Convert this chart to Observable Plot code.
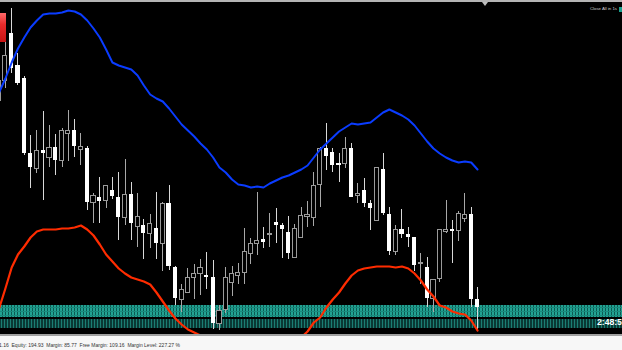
<!DOCTYPE html>
<html><head><meta charset="utf-8">
<script src="https://cdn.jsdelivr.net/npm/d3@7"></script>
<script src="https://cdn.jsdelivr.net/npm/@observablehq/plot@0.6"></script>
<style>
html,body{margin:0;padding:0;background:#000;overflow:hidden;width:622px;height:350px;}
#wrap{position:relative;width:622px;height:350px;overflow:hidden;}
#chart svg{display:block;}
#topbar{position:absolute;left:0;top:0;width:622px;height:2px;background:#b4b4b4;}
#redbtn{position:absolute;left:0;top:13px;width:6px;height:29px;background:linear-gradient(#ff6a6a,#e82a2a 40%,#c81414);}
#closeall{position:absolute;right:5px;top:6px;font:4.3px "Liberation Sans",sans-serif;color:#d0d0d0;white-space:nowrap;}
#closesq{position:absolute;left:619px;top:7px;width:4px;height:5px;background:#1aa08f;}
#shift{position:absolute;left:482px;top:2px;width:0;height:0;border-left:3px solid transparent;border-right:3px solid transparent;border-top:4px solid #bdbdbd;}
#clock{position:absolute;left:597px;top:317px;font:bold 8.6px "Liberation Sans",sans-serif;color:#fff;white-space:nowrap;}
#status{position:absolute;left:0;top:334px;width:622px;height:16px;background:#f7f7f7;border-top:2px solid #a0a0a0;box-sizing:border-box;}
#status span{position:absolute;left:-1px;top:6px;font:5px "Liberation Sans",sans-serif;color:#333;white-space:pre;}
</style></head>
<body><div id="wrap"><div id="chart"></div>
<div id="topbar"></div><div id="redbtn"></div>
<div id="closeall">Close All in 1s</div><div id="closesq"></div>
<div id="shift"></div>
<div id="clock">2:48:5</div>
<div id="status"><span>1.16  Equity: 194.93  Margin: 85.77  Free Margin: 109.16  Margin Level: 227.27 %</span></div>
</div>
<script>
// candle index (bar number), -1 .. 75
const barIndex = d3.range(-1, 76);
const open  = [250,270,317,285,272,197,182,200,193,203,190,217,220,201,202,148,153,150,160,153,133,156,124,125,117,122,107,147,83,51,58,73,77,75,73,27,41,68,75,78,97,107,111,116,128,125,118,93,113,134,133,166,202,198,187,187,202,155,160,147,130,181,136,99,121,116,113,87,83,52,72,119,121,120,132,136,51];
const high  = [290,310,342,297,274,215,220,239,225,216,222,240,231,217,204,157,173,165,173,178,191,168,157,131,136,158,148,165,84,66,82,86,91,98,90,45,83,84,87,122,112,158,123,137,142,127,134,126,143,149,178,203,227,202,197,213,207,167,172,150,183,197,143,125,141,123,113,97,93,71,121,150,130,139,157,143,63];
const low   = [242,262,277,265,195,162,177,150,183,175,183,189,193,185,140,127,127,142,151,110,125,110,103,91,102,91,79,80,45,38,57,51,55,61,21,20,37,54,66,66,86,95,102,103,107,92,91,93,113,123,124,143,180,178,168,182,153,147,143,120,130,135,95,95,112,103,79,66,43,38,68,117,87,109,128,43,20];
const close = [270,295,282,267,197,183,200,197,203,190,220,220,204,204,148,155,149,165,154,133,156,127,134,117,127,107,147,84,52,61,73,77,83,73,27,40,73,77,78,99,107,110,108,117,125,121,97,122,135,136,165,202,194,185,185,202,153,157,147,142,183,137,99,121,116,113,85,88,52,71,121,121,119,137,136,51,43];
// envelope indicator lines (upper blue, lower red)
const upperBand = [258,272,288,302,313,323,330,336,337,337,338,340,339,336,330,322,313,301,288,285,283,281,275,265,256,252,249,242,234,226,220,214,207,201,193,183,178,171,166,165,163,164,163,167,170,173,175,178,181,185,193,201,207,213,219,223,227,226,227,228,233,238,241,238,235,231,225,217,209,202,197,193,190,188,189,188,181];
const lowerBand = [42,62,83,96,104,113,119,121,121,121,122,122,123,125,121,115,106,96,89,82,77,73,71,69,66,58,49,40,32,26,21,18,15,12,8,4,1,-2,-4,-6,-7,-7,-6,-4,-2,1,4,8,13,19,28,33,43,51,58,67,75,80,82,83,84,84,84,83,84,82,77,70,61,54,45,43,39,37,36,30,20];
// lower histogram strip levels
const stripTop = [45, 31];
const stripBottom = [33, 22];
const stripFill = ["url(#strip1)", "url(#strip2)"];

const xDomain = [-0.778, 98.03];
const candles = barIndex.map((i, k) => ({i, o: open[k], h: high[k], l: low[k], c: close[k]}));
const upCandles = candles.filter(d => d.c > d.o);
const downCandles = candles.filter(d => d.c <= d.o);
const upper = barIndex.map((i, k) => ({i, v: upperBand[k]}));
const lower = barIndex.map((i, k) => ({i, v: lowerBand[k]}));
const strips = stripTop.map((t, k) => ({t, b: stripBottom[k], f: stripFill[k]}));
const half = 0.33;

const chart = Plot.plot({
  width: 622, height: 334, margin: 0,
  style: {background: "#000"},
  x: {domain: xDomain, axis: null},
  y: {domain: [16, 350], axis: null},
  marks: [
    Plot.rect(strips, {x1: xDomain[0], x2: xDomain[1], y1: "b", y2: "t", fill: d => d.f}),
    Plot.ruleX(downCandles, {x: "i", y1: "l", y2: "h", stroke: "#d8d8d8", strokeWidth: 1, shapeRendering: "crispEdges"}),
    Plot.ruleX(upCandles, {x: "i", y1: "l", y2: "h", stroke: "#a8a8a8", strokeWidth: 1, shapeRendering: "crispEdges"}),
    Plot.rect(downCandles, {x1: d => d.i - half, x2: d => d.i + half, y1: "o", y2: "c", fill: "#fff", shapeRendering: "crispEdges"}),
    Plot.rect(upCandles, {x1: d => d.i - half, x2: d => d.i + half, y1: "o", y2: "c", fill: "#000", stroke: "#9a9a9a", strokeWidth: 1, shapeRendering: "crispEdges"}),
    Plot.line(lower, {x: "i", y: "v", stroke: "#ff2c00", strokeWidth: 2.2, clip: true}),
    Plot.line(upper, {x: "i", y: "v", stroke: "#0a3cff", strokeWidth: 2, clip: true})
  ]
});
const defs = d3.select(chart).insert("defs", ":first-child");
const p1 = defs.append("pattern").attr("id", "strip1").attr("patternUnits", "userSpaceOnUse").attr("width", 3).attr("height", 4);
p1.append("rect").attr("width", 3).attr("height", 4).attr("fill", "#22a393");
p1.append("rect").attr("x", 2).attr("width", 1).attr("height", 4).attr("fill", "#0c5a52");
p1.append("rect").attr("y", 3).attr("width", 3).attr("height", 1).attr("fill", "#1a8a7d");
const p2 = defs.append("pattern").attr("id", "strip2").attr("patternUnits", "userSpaceOnUse").attr("width", 3).attr("height", 3);
p2.append("rect").attr("width", 3).attr("height", 3).attr("fill", "#0a3834");
p2.append("rect").attr("x", 1).attr("width", 1).attr("height", 3).attr("fill", "#1b7d72");
document.getElementById("chart").appendChild(chart);
</script>
</body></html>
